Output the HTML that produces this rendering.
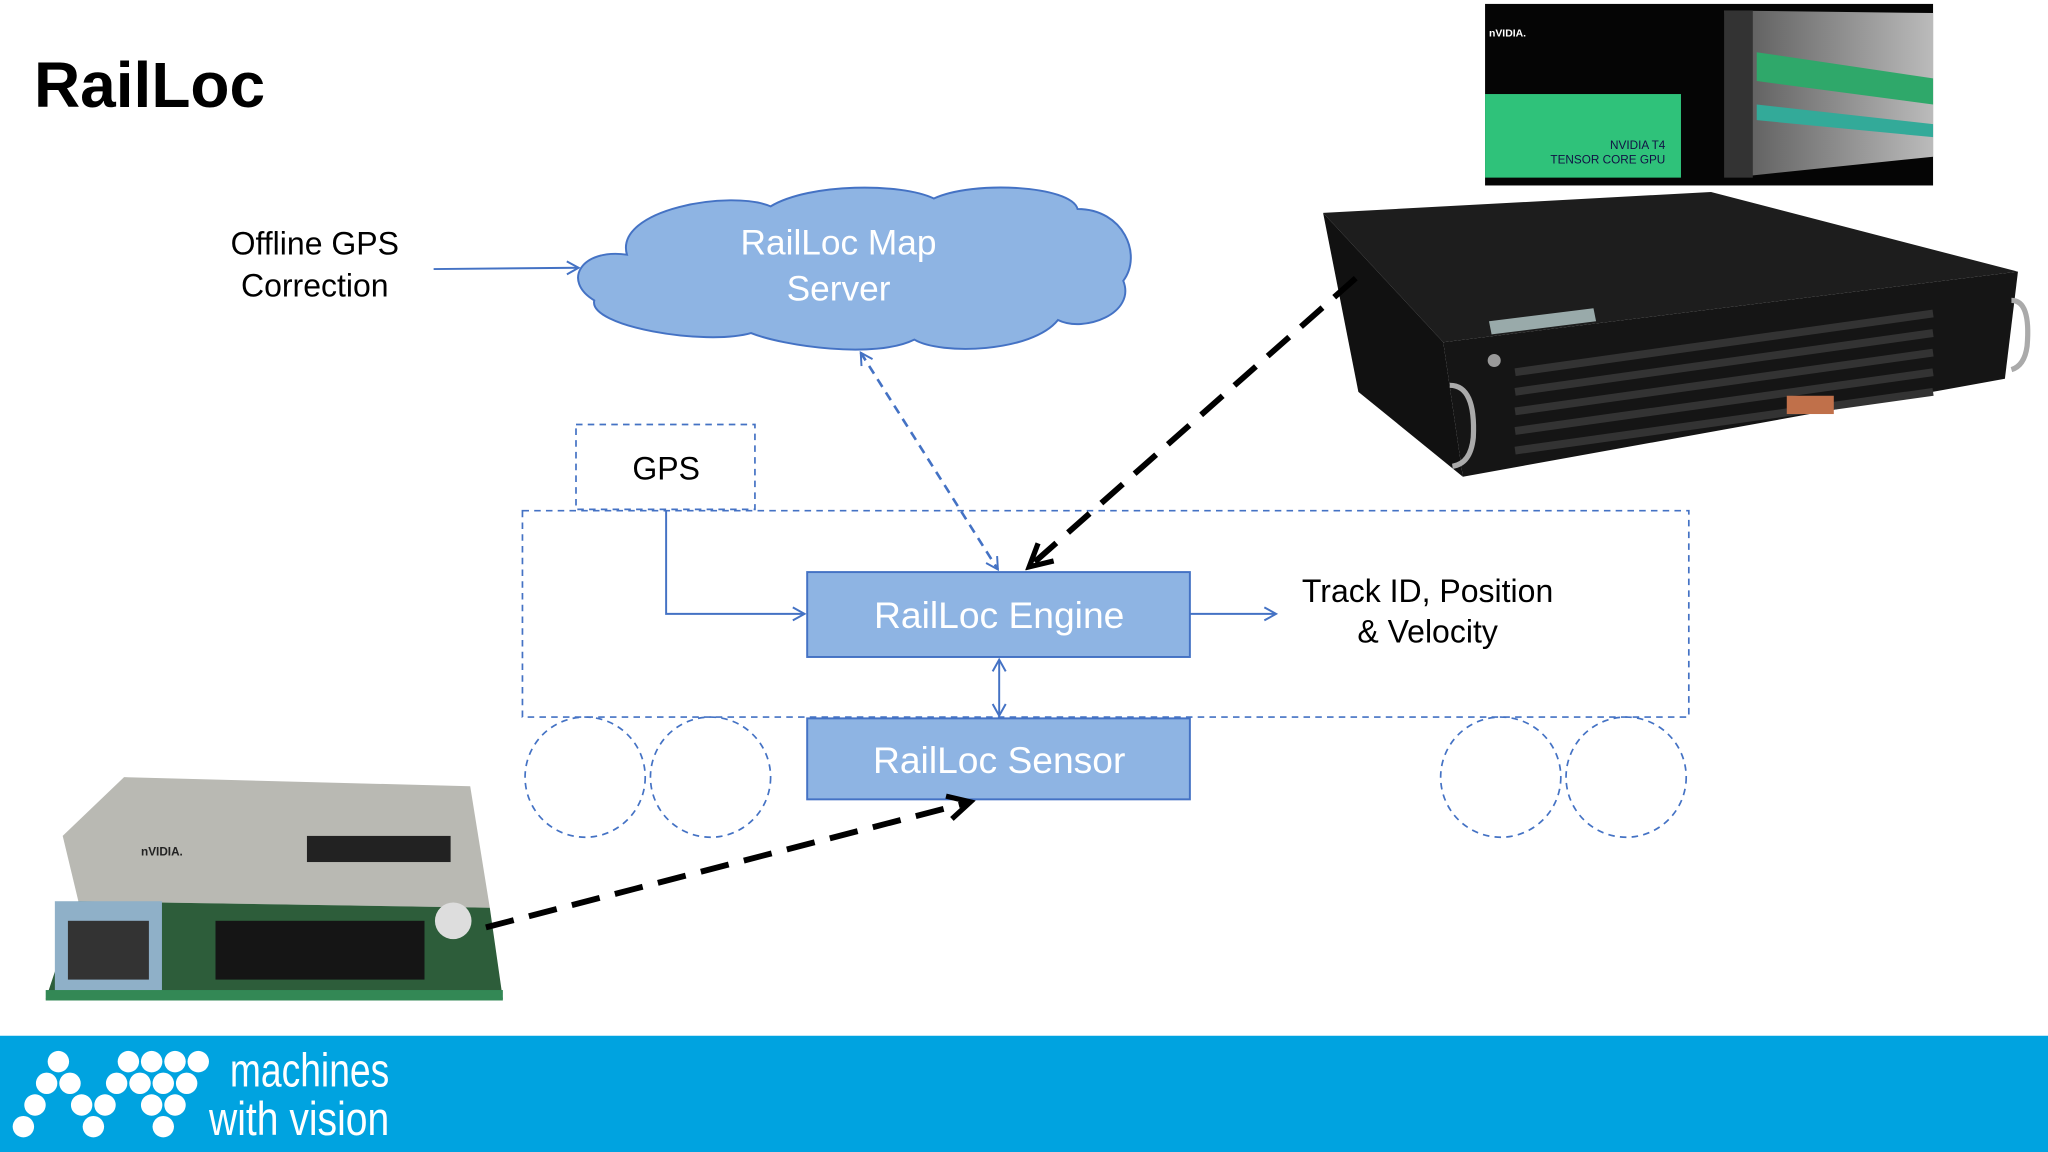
<!DOCTYPE html>
<html><head><meta charset="utf-8"><style>
html,body{margin:0;padding:0;background:#fff;}
svg{display:block;}
text{font-family:"Liberation Sans",sans-serif;}
</style></head><body>
<svg width="2048" height="1152" viewBox="0 0 1568 882" xmlns="http://www.w3.org/2000/svg">
<defs>
<marker id="oa" markerWidth="12" markerHeight="12" refX="10" refY="6" orient="auto" markerUnits="userSpaceOnUse"><path d="M1,1 L10,6 L1,11" fill="none" stroke="#4472c4" stroke-width="1.5"/></marker>
<marker id="os" markerWidth="12" markerHeight="12" refX="10" refY="6" orient="auto-start-reverse" markerUnits="userSpaceOnUse"><path d="M1,1 L10,6 L1,11" fill="none" stroke="#4472c4" stroke-width="1.5"/></marker>
<marker id="ba" markerWidth="24" markerHeight="24" refX="20" refY="12" orient="auto" markerUnits="userSpaceOnUse"><path d="M3,3 L20,12 L3,21" fill="none" stroke="#000" stroke-width="4"/></marker>
<linearGradient id="gpu" x1="0" x2="1"><stop offset="0" stop-color="#555"/><stop offset="1" stop-color="#bbb"/></linearGradient>
</defs>
<rect width="1568" height="882" fill="#fff"/>
<text x="26" y="82" font-size="49" font-weight="bold">RailLoc</text>

<rect x="1137" y="3" width="343" height="139" fill="#050505"/>
<rect x="1137" y="72" width="150" height="64" fill="#2fc27a"/>
<text x="1275" y="114" font-size="9" fill="#114" text-anchor="end">NVIDIA T4</text>
<text x="1275" y="125" font-size="9" fill="#114" text-anchor="end">TENSOR CORE GPU</text>
<text x="1140" y="28" font-size="8" fill="#fff" font-weight="bold">nVIDIA.</text>
<polygon points="1320,8 1480,10 1480,120 1335,135" fill="url(#gpu)"/>
<polygon points="1345,40 1480,60 1480,80 1345,62" fill="#2fa86a"/>
<polygon points="1345,80 1480,95 1480,105 1345,92" fill="#3a9"/>
<rect x="1320" y="8" width="22" height="128" fill="#333"/>

<polygon points="1013,163 1310,147 1545,208 1105,262" fill="#1d1d1d"/>
<polygon points="1013,163 1105,262 1120,365 1040,300" fill="#111"/>
<polygon points="1105,262 1545,208 1535,290 1120,365" fill="#151515"/>
<polygon points="1140,246 1220,236 1222,246 1142,256" fill="#9aa"/>
<path d="M1160,285 L1480,240 M1160,300 L1480,255 M1160,315 L1480,270 M1160,330 L1480,285 M1160,345 L1480,300" stroke="#333" stroke-width="6"/>
<rect x="1368" y="303" width="36" height="14" fill="#c0704a"/>
<path d="M1110,295 q20,0 18,40 q-2,20 -16,22" fill="none" stroke="#aaa" stroke-width="4"/>
<path d="M1540,230 q15,0 12,35 q-2,15 -12,18" fill="none" stroke="#aaa" stroke-width="4"/>
<circle cx="1144" cy="276" r="5" fill="#999"/>

<polygon points="95,595 360,602 375,695 60,690 48,640" fill="#b9b9b3"/>
<polygon points="60,690 375,695 385,765 35,765" fill="#2d5d3a"/>
<rect x="42" y="690" width="82" height="70" fill="#8fb0c8"/>
<rect x="52" y="705" width="62" height="45" fill="#333"/>
<rect x="165" y="705" width="160" height="45" fill="#151515"/>
<rect x="235" y="640" width="110" height="20" fill="#222"/>
<circle cx="347" cy="705" r="14" fill="#ddd"/>
<rect x="35" y="758" width="350" height="8" fill="#385"/>
<text x="108" y="655" font-size="9" fill="#222" font-weight="bold">nVIDIA.</text>

<path d="M480,195 C470,160 560,145 590,158 C620,140 690,140 715,152 C745,138 820,142 825,160 C860,160 875,195 860,215 C870,240 830,255 810,245 C790,270 720,272 700,260 C670,275 600,265 575,255 C540,265 450,250 455,230 C430,215 445,190 480,195 Z" fill="#8eb4e3" stroke="#4472c4" stroke-width="1.5"/>
<text x="642" y="195" font-size="27" fill="#fff" text-anchor="middle">RailLoc Map</text>
<text x="642" y="230" font-size="27" fill="#fff" text-anchor="middle">Server</text>

<text x="241" y="195" font-size="24.5" text-anchor="middle">Offline GPS</text>
<text x="241" y="227" font-size="24.5" text-anchor="middle">Correction</text>
<line x1="332" y1="206" x2="443" y2="205" stroke="#4472c4" stroke-width="1.5" marker-end="url(#oa)"/>

<rect x="441" y="325" width="137" height="65" fill="none" stroke="#4472c4" stroke-width="1.3" stroke-dasharray="5,4"/>
<text x="510" y="367" font-size="24.5" text-anchor="middle">GPS</text>
<rect x="400" y="391" width="893" height="158" fill="none" stroke="#4472c4" stroke-width="1.3" stroke-dasharray="5,4"/>
<g fill="none" stroke="#4472c4" stroke-width="1.3" stroke-dasharray="5,4">
<circle cx="448" cy="595" r="46"/><circle cx="544" cy="595" r="46"/>
<circle cx="1149" cy="595" r="46"/><circle cx="1245" cy="595" r="46"/>
</g>

<rect x="618" y="438" width="293" height="65" fill="#8eb4e3" stroke="#4472c4" stroke-width="1.5"/>
<text x="765" y="481" font-size="28.5" fill="#fff" text-anchor="middle">RailLoc Engine</text>
<rect x="618" y="550" width="293" height="62" fill="#8eb4e3" stroke="#4472c4" stroke-width="1.5"/>
<text x="765" y="592" font-size="28.5" fill="#fff" text-anchor="middle">RailLoc Sensor</text>

<text x="1093" y="461" font-size="24.5" text-anchor="middle">Track ID, Position</text>
<text x="1093" y="492" font-size="24.5" text-anchor="middle">&amp; Velocity</text>

<polyline points="510,391 510,470 616,470" fill="none" stroke="#4472c4" stroke-width="1.5" marker-end="url(#oa)"/>
<line x1="911" y1="470" x2="977" y2="470" stroke="#4472c4" stroke-width="1.5" marker-end="url(#oa)"/>
<line x1="765" y1="505" x2="765" y2="548" stroke="#4472c4" stroke-width="1.5" marker-start="url(#os)" marker-end="url(#oa)"/>
<line x1="659" y1="270" x2="764" y2="436" stroke="#4472c4" stroke-width="2" stroke-dasharray="7,5" marker-start="url(#os)" marker-end="url(#oa)"/>
<line x1="1038" y1="213" x2="788" y2="434" stroke="#000" stroke-width="4.5" stroke-dasharray="22,12" marker-end="url(#ba)"/>
<line x1="372" y1="710" x2="743" y2="614" stroke="#000" stroke-width="4.5" stroke-dasharray="22,12" marker-end="url(#ba)"/>

<rect x="0" y="793" width="1568" height="89" fill="#00a3e0"/>
<g fill="#fff">
<circle cx="44.7" cy="812.8" r="8.2"/><circle cx="98.3" cy="812.8" r="8.2"/><circle cx="116.1" cy="812.8" r="8.2"/><circle cx="134" cy="812.8" r="8.2"/><circle cx="151.8" cy="812.8" r="8.2"/>
<circle cx="35.7" cy="829.4" r="8.2"/><circle cx="53.6" cy="829.4" r="8.2"/><circle cx="89.3" cy="829.4" r="8.2"/><circle cx="107.2" cy="829.4" r="8.2"/><circle cx="125" cy="829.4" r="8.2"/><circle cx="142.9" cy="829.4" r="8.2"/>
<circle cx="26.8" cy="846" r="8.2"/><circle cx="62.5" cy="846" r="8.2"/><circle cx="80.4" cy="846" r="8.2"/><circle cx="116.1" cy="846" r="8.2"/><circle cx="134" cy="846" r="8.2"/>
<circle cx="17.9" cy="862.6" r="8.2"/><circle cx="71.5" cy="862.6" r="8.2"/><circle cx="125" cy="862.6" r="8.2"/>
</g>
<text x="176" y="832" font-size="36" fill="#fff" textLength="122" lengthAdjust="spacingAndGlyphs">machines</text>
<text x="160" y="869" font-size="36" fill="#fff" textLength="138" lengthAdjust="spacingAndGlyphs">with vision</text>
</svg>
</body></html>
